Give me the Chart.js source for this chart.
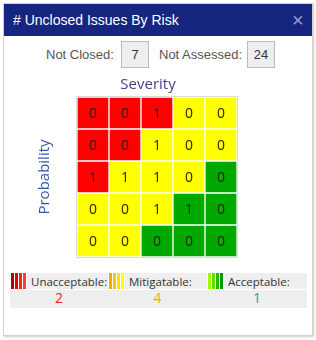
<!DOCTYPE html>
<html lang="en">
<head>
  <meta charset="UTF-8" />
  <title># Unclosed Issues By Risk</title>
  <script src="https://cdn.jsdelivr.net/npm/chart.js"></script>
  <style>
    body { margin: 0; background: #fff; font-family: "Liberation Sans", Arial, sans-serif; }
    .panel { position: absolute; left: 3px; top: 3px; width: 308px; height: 331px; border: 1px solid #cfcfcf; box-shadow: 1px 1px 2px rgba(0,0,0,.2); background: #fff; }
    .head { position: absolute; left: 0; top: 0; width: 308px; height: 32px; background: #16257f; color: #fff; font-size: 14px; line-height: 32px; }
    .head .t { position: absolute; left: 9px; }
    .head .x { position: absolute; left: 288px; font-size: 20px; color: #9aa0bd; }
    .lbl { position: absolute; top: 37px; font-size: 13px; line-height: 27px; color: #555; }
    .box { position: absolute; top: 37px; width: 26px; height: 25px; border: 1px solid #bbb; background: #eee; color: #333; font-size: 13px; line-height: 25px; text-align: center; }
    #riskChart { position: absolute; left: 26px; top: 66px; }
    .legend { position: absolute; left: 6px; top: 269px; width: 297px; font-family: "Open Sans", sans-serif; }
    .row1, .row2 { display: flex; }
    .row1 { height: 16px; margin-bottom: 1px; }
    .row2 { height: 18px; background: #eee; }
    .cell { display: flex; }
    .stripes { display: flex; margin: 0 1px; }
    .stripes span { width: 3px; height: 16px; margin-right: 1px; }
    .stripes span:last-child { margin-right: 0; }
    .name { flex: 1; background: #eee; font-size: 11.5px; line-height: 16px; padding: 1px 0 0 4px; box-sizing: border-box; color: #333; }
    .num { text-align: center; font-size: 14px; line-height: 16px; }
  </style>
</head>
<body>
  <div class="panel">
    <div class="head"><span class="t"># Unclosed Issues By Risk</span><span class="x">×</span></div>
    <span class="lbl" style="left:42px">Not Closed:</span>
    <div class="box" style="left:117px" id="notClosed"></div>
    <span class="lbl" style="left:155px">Not Assessed:</span>
    <div class="box" style="left:243px" id="notAssessed"></div>
    <canvas id="riskChart" width="236" height="192"></canvas>
    <div class="legend">
      <div class="row1" id="legendNames"></div>
      <div class="row2" id="legendNums"></div>
    </div>
  </div>

  <script>
    // severity across, probability down (top row first)
    const severities = ['1', '2', '3', '4', '5'];
    const probabilities = ['5', '4', '3', '2', '1'];
    const riskLevels = [
      ['U', 'U', 'U', 'M', 'M'],
      ['U', 'U', 'M', 'M', 'M'],
      ['U', 'M', 'M', 'M', 'A'],
      ['M', 'M', 'M', 'A', 'A'],
      ['M', 'M', 'A', 'A', 'A']
    ];
    const issueCounts = [
      [0, 0, 1, 0, 0],
      [0, 0, 1, 0, 0],
      [1, 1, 1, 0, 0],
      [0, 0, 1, 1, 0],
      [0, 0, 0, 0, 0]
    ];
    const notAssessed = 24;

    const levelKeys = ['U', 'M', 'A'];
    const levelNames = ['Unacceptable:', 'Mitigatable:', 'Acceptable:'];
    const levelColors = { U: '#ff0000', M: '#ffff00', A: '#00a800' };
    const levelTextColors = { U: '#ff1a1a', M: '#ffa500', A: '#17a589' };
    const stripeColors = {
      U: ['#b00000', '#e00000', '#ff2020', '#ff3b3b'],
      M: ['#ffa500', '#ffc400', '#ffe000', '#ffff00'],
      A: ['#99ff00', '#66dd00', '#22bb00', '#009900']
    };

    // totals
    let totals = { U: 0, M: 0, A: 0 };
    let allOpen = 0;
    issueCounts.forEach((row, r) => row.forEach((n, c) => {
      totals[riskLevels[r][c]] += n;
      allOpen += n;
    }));
    document.getElementById('notClosed').textContent = allOpen;
    document.getElementById('notAssessed').textContent = notAssessed;

    // legend
    const cellWidths = [98, 99, 100];
    let namesHtml = '', numsHtml = '';
    levelKeys.forEach((k, i) => {
      namesHtml += '<div class="cell" style="width:' + cellWidths[i] + 'px"><div class="stripes">' +
        stripeColors[k].map(c => '<span style="background:' + c + '"></span>').join('') +
        '</div><div class="name">' + levelNames[i] + '</div></div>';
      numsHtml += '<div class="num" style="width:' + cellWidths[i] + 'px;color:' + levelTextColors[k] + '">' + totals[k] + '</div>';
    });
    document.getElementById('legendNames').innerHTML = namesHtml;
    document.getElementById('legendNums').innerHTML = numsHtml;

    // one stacked dataset per probability row, bottom row first
    const datasets = probabilities.map((p, r) => ({
      label: 'Probability ' + p,
      data: severities.map(() => 1),
      counts: issueCounts[r],
      backgroundColor: riskLevels[r].map(l => levelColors[l]),
      borderColor: '#fff',
      borderWidth: 1,
      borderSkipped: false,
      categoryPercentage: 1,
      barPercentage: 1
    })).reverse();

    const cellLabels = {
      id: 'cellLabels',
      beforeDatasetsDraw(chart) {
        const a = chart.chartArea;
        const ctx = chart.ctx;
        ctx.save();
        ctx.strokeStyle = '#dcdcdc';
        ctx.lineWidth = 1;
        ctx.strokeRect(a.left - 0.5, a.top - 0.5, a.right - a.left + 1, a.bottom - a.top + 1);
        ctx.restore();
      },
      afterDatasetsDraw(chart) {
        const ctx = chart.ctx;
        ctx.save();
        ctx.font = "14px 'Open Sans'";
        ctx.fillStyle = '#222';
        ctx.textAlign = 'center';
        ctx.textBaseline = 'middle';
        chart.data.datasets.forEach((ds, i) => {
          chart.getDatasetMeta(i).data.forEach((bar, j) => {
            const c = bar.getCenterPoint();
            ctx.fillText(ds.counts[j], c.x, c.y + 1);
          });
        });
        ctx.restore();
      }
    };

    Chart.defaults.font.family = "'Open Sans', sans-serif";

    new Chart(document.getElementById('riskChart'), {
      type: 'bar',
      data: { labels: severities, datasets: datasets },
      options: {
        responsive: false,
        animation: false,
        devicePixelRatio: 1,
        layout: { padding: { left: 6, right: 6, top: 6, bottom: 5 } },
        plugins: {
          legend: { display: false },
          tooltip: { enabled: false },
          title: {
            display: true,
            text: 'Severity',
            color: '#4b3c8c',
            font: { size: 15, weight: 'normal', lineHeight: 1.2 },
            padding: { top: 0, bottom: 3 }
          }
        },
        scales: {
          x: { stacked: true, display: false },
          y: {
            stacked: true,
            min: 0,
            max: 5,
            position: 'left',
            ticks: { display: false },
            grid: { display: false, drawTicks: false },
            border: { display: false },
            title: {
              display: true,
              text: 'Probability',
              color: '#3457b0',
              font: { size: 15, lineHeight: 1.2 },
              padding: { top: 0, bottom: 23 }
            }
          },
          y2: {
            position: 'right',
            ticks: { display: false },
            grid: { display: false, drawTicks: false },
            border: { display: false },
            afterFit(scale) { scale.width = 23; }
          }
        }
      },
      plugins: [cellLabels]
    });
  </script>
</body>
</html>
